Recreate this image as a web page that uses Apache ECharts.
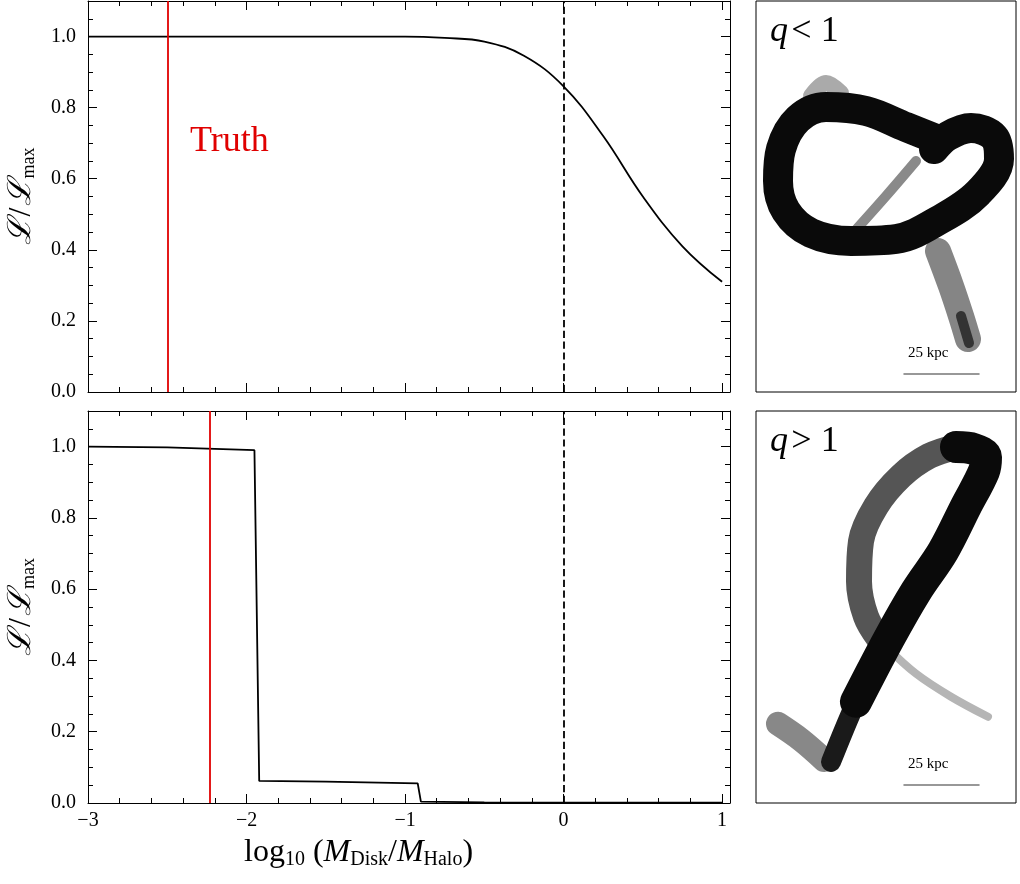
<!DOCTYPE html>
<html>
<head>
<meta charset="utf-8">
<title>likelihood</title>
<script src="https://cdn.jsdelivr.net/npm/echarts@6/dist/echarts.min.js"></script>
</head>
<body style="margin:0;background:#fff">
<div id="main" style="width:1020px;height:884px"></div>
<script type="text/javascript">
// likelihood curves, x = log10(Mdisk/Mhalo)
var topCurve = [[-3,1.0],[-2,1.0],[-1,1.0],[-0.75,0.996],[-0.5,0.986],[-0.25,0.946],[0,0.86],[0.25,0.72],[0.5,0.55],[0.75,0.41],[1,0.31]];
var botCurve = [[-3,1.0],[-2.5,0.998],[-1.95,0.99],[-1.92,0.062],[-1.5,0.06],[-0.92,0.055],[-0.9,0.004],[-0.5,0.002],[1,0.001]];
var truthTop = -2.5, truthBot = -2.23;
var xTicks = [-3, -2, -1, 0, 1];
// stream sketches, panel-local pixel coords
var loopMain = [[185,140],[150,126],[110,110],[70,106],[42,118],[25,148],[22,180],[30,210],[55,232],[95,240],[140,238],[185,218],[222,192],[243,158],[238,136],[215,127],[192,135],[178,148]];
var loopSpray = [[55,95],[70,82],[85,92]];
var loopBar = [[97,232],[130,195],[160,160]];
var loopTail = [[182,250],[195,285],[205,315],[212,338]];
var loopTailTip = [[205,315],[213,342]];
var ribbonLow = [[75,350],[88,318],[100,290]];
var ribbonMain = [[100,290],[133,227],[160,180],[187,140],[210,95],[228,60],[230,46],[218,38],[200,36]];
var ribbonArc = [[200,36],[173,45],[145,65],[120,95],[105,130],[103,170],[110,205],[123,227]];
var ribbonTail = [[130,235],[160,262],[195,285],[232,305]];
var ribbonFoot = [[22,312],[45,328],[68,348]];
var scaleBar = [[148,373],[223,373]];

var serif = 'Liberation Serif';
var chart = echarts.init(document.getElementById('main'));

var tickStyle = {inside: true, length: 9, lineStyle: {color: '#000'}};
var minorX = {show: true, splitNumber: 5, length: 5, lineStyle: {color: '#000'}};
var minorY = {show: true, splitNumber: 4, length: 5, lineStyle: {color: '#000'}};
var lineAx = {onZero: false, lineStyle: {color: '#000'}};

function leftX(idx, show) {
  return [{
    gridIndex: idx, type: 'value', min: -3, max: 1.05, interval: 1,
    axisLine: lineAx, axisTick: tickStyle, minorTick: minorX,
    axisLabel: {show: show, color: '#000', fontFamily: serif, fontSize: 20, margin: 8,
      formatter: function (v) { return xTicks.indexOf(v) >= 0 ? String(v).replace('-', '\u2212') : ''; }},
    splitLine: {show: false}
  }, {
    gridIndex: idx, type: 'value', position: 'top', min: -3, max: 1.05, interval: 1,
    axisLine: lineAx, axisTick: tickStyle, minorTick: minorX,
    axisLabel: {show: false}, splitLine: {show: false}
  }];
}
function leftY(idx) {
  return [{
    gridIndex: idx, type: 'value', min: 0, max: 1.1, interval: 0.2,
    name: '{a|\u2112}{b|/}{a|\u2112}{s|max}', nameLocation: 'middle', nameRotate: 90, nameGap: 50,
    nameTextStyle: {rich: {a: {fontFamily: serif, fontSize: 32, fontStyle: 'italic'}, b: {fontFamily: serif, fontSize: 32, padding: [0, 2, 0, 2]}, s: {fontFamily: serif, fontSize: 18, padding: [14, 0, 0, 0]}}},
    axisLine: lineAx, axisTick: tickStyle, minorTick: minorY,
    axisLabel: {color: '#000', fontFamily: serif, fontSize: 20, margin: 12,
      formatter: function (v) { return v > 1.05 ? '' : v.toFixed(1); }},
    splitLine: {show: false}
  }, {
    gridIndex: idx, type: 'value', position: 'right', min: 0, max: 1.1, interval: 0.2,
    axisLine: lineAx, axisTick: tickStyle, minorTick: minorY,
    axisLabel: {show: false}, splitLine: {show: false}
  }];
}
function panelAxis(idx, dim) {
  return {gridIndex: idx, type: 'value', min: 0, max: dim === 'x' ? 260 : 391, inverse: dim === 'y',
    axisLine: {show: false}, axisTick: {show: false}, axisLabel: {show: false}, splitLine: {show: false}};
}
function stream(xi, data, w, color) {
  return {type: 'line', xAxisIndex: xi, yAxisIndex: xi, data: data, smooth: 0.35, symbol: 'none',
    lineStyle: {color: color, width: w, cap: 'round', join: 'round'}, silent: true};
}
function vline(x, color, type) {
  return {symbol: 'none', silent: true, label: {show: false},
    lineStyle: {color: color, type: type, width: 1.8}, data: [{xAxis: x}]};
}

chart.setOption({
  animation: false,
  grid: [
    {left: 88, top: 1, width: 642, height: 391, outerBoundsMode: 'none'},
    {left: 88, top: 411, width: 642, height: 392, outerBoundsMode: 'none'},
    {left: 756, top: 1, width: 260, height: 391, outerBoundsMode: 'none'},
    {left: 756, top: 411, width: 260, height: 392, outerBoundsMode: 'none'}
  ],
  xAxis: leftX(0, false).concat(leftX(1, true), [panelAxis(2, 'x'), panelAxis(3, 'x')]),
  yAxis: leftY(0).concat(leftY(1), [panelAxis(2, 'y'), panelAxis(3, 'y')]),
  series: [
    {type: 'line', xAxisIndex: 0, yAxisIndex: 0, data: topCurve, smooth: 0.4, symbol: 'none',
      lineStyle: {color: '#000', width: 1.8},
      markLine: vline(0, '#000', 'dashed')},
    {type: 'line', xAxisIndex: 0, yAxisIndex: 0, data: [], markLine: vline(truthTop, '#e00000', 'solid')},
    {type: 'line', xAxisIndex: 2, yAxisIndex: 2, data: botCurve, symbol: 'none',
      lineStyle: {color: '#000', width: 1.8},
      markLine: vline(0, '#000', 'dashed')},
    {type: 'line', xAxisIndex: 2, yAxisIndex: 2, data: [], markLine: vline(truthBot, '#e00000', 'solid')},
    stream(4, loopSpray, 16, '#aaa'),
    stream(4, loopBar, 10, '#8a8a8a'),
    stream(4, loopTail, 26, '#858585'),
    stream(4, loopTailTip, 10, '#333'),
    stream(4, loopMain, 30, '#0a0a0a'),
    stream(4, scaleBar, 1.5, '#777'),
    stream(5, ribbonFoot, 24, '#888'),
    stream(5, ribbonTail, 8, '#b5b5b5'),
    stream(5, ribbonArc, 26, '#555'),
    stream(5, ribbonLow, 20, '#1a1a1a'),
    stream(5, ribbonMain, 32, '#0a0a0a'),
    stream(5, scaleBar, 1.5, '#777')
  ],
  graphic: [
    {type: 'rect', shape: {x: 756, y: 1, width: 260, height: 391}, style: {fill: 'none', stroke: '#000', lineWidth: 1}, silent: true},
    {type: 'rect', shape: {x: 756, y: 411, width: 260, height: 392}, style: {fill: 'none', stroke: '#000', lineWidth: 1}, silent: true},
    {type: 'text', x: 770, y: 14, style: {text: '{i|q} {n|< 1}', rich: {i: {fontFamily: serif, fontStyle: 'italic', fontSize: 36}, n: {fontFamily: serif, fontSize: 36}}}},
    {type: 'text', x: 770, y: 424, style: {text: '{i|q} {n|> 1}', rich: {i: {fontFamily: serif, fontStyle: 'italic', fontSize: 36}, n: {fontFamily: serif, fontSize: 36}}}},
    {type: 'text', x: 908, y: 346, style: {text: '25 kpc', fontFamily: serif, fontSize: 15, fill: '#000'}},
    {type: 'text', x: 908, y: 757, style: {text: '25 kpc', fontFamily: serif, fontSize: 15, fill: '#000'}},
    {type: 'text', x: 190, y: 124, style: {text: 'Truth', fontFamily: serif, fontSize: 36, fill: '#e00000'}},
    {type: 'text', x: 244, y: 836, style: {text: '{a|log}{s|10}{a| (}{i|M}{s|Disk}{a|/}{i|M}{s|Halo}{a|)}',
      rich: {a: {fontFamily: serif, fontSize: 32}, i: {fontFamily: serif, fontSize: 32, fontStyle: 'italic'}, s: {fontFamily: serif, fontSize: 20, padding: [14, 0, 0, 0]}}}}
  ]
});
</script>
</body>
</html>
